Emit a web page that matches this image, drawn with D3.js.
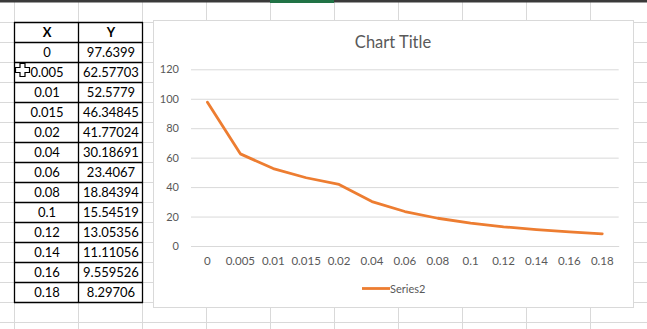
<!DOCTYPE html>
<html>
<head>
<meta charset="utf-8">
<script src="https://cdn.jsdelivr.net/npm/d3@7"></script>
<style>
  html, body { margin: 0; padding: 0; background: #fff; overflow: hidden; }
  svg { display: block; font-family: Lato, "Liberation Sans", sans-serif; }
</style>
</head>
<body>
<div id="sheet"></div>
<script>
// table / chart data
var xLabels = ["0", "0.005", "0.01", "0.015", "0.02", "0.04", "0.06", "0.08", "0.1", "0.12", "0.14", "0.16", "0.18"];
var yValues = [97.6399, 62.57703, 52.5779, 46.34845, 41.77024, 30.18691, 23.4067, 18.84394, 15.54519, 13.05356, 11.11056, 9.559526, 8.29706];
var yTicks = [0, 20, 40, 60, 80, 100, 120];
var headers = ["X", "Y"];
var seriesName = "Series2";
var chartTitle = "Chart Title";

var W = 647, H = 329;
var svg = d3.select("#sheet").append("svg")
    .attr("width", W)
    .attr("height", H);

// spreadsheet grid
var colX = d3.range(14, W, 64);
var rowY = d3.range(22, H, 20);
svg.append("g").selectAll("line.v").data(colX).enter().append("line")
    .attr("x1", function (d) { return d + 0.5; }).attr("x2", function (d) { return d + 0.5; })
    .attr("y1", 0).attr("y2", H)
    .attr("stroke", "#d9d9d9");
svg.append("g").selectAll("line.h").data(rowY).enter().append("line")
    .attr("x1", 0).attr("x2", W)
    .attr("y1", function (d) { return d + 0.5; }).attr("y2", function (d) { return d + 0.5; })
    .attr("stroke", "#d9d9d9");

// top bar + selected column marker
svg.append("rect").attr("x", 0).attr("y", 0).attr("width", W).attr("height", 2.5).attr("fill", "#3a3a3a");
svg.append("rect").attr("x", 270).attr("y", 0).attr("width", 64).attr("height", 3).attr("fill", "#217346");

// table
var tx = 14, ty = 22, cw = 64, rh = 20;
var rows = [headers].concat(xLabels.map(function (x, i) { return [x, String(yValues[i])]; }));
var table = svg.append("g");
table.append("rect")
    .attr("x", tx + 0.5).attr("y", ty + 0.5)
    .attr("width", cw * 2).attr("height", rh * rows.length)
    .attr("fill", "#fff");
rows.forEach(function (r, i) {
    r.forEach(function (c, j) {
        table.append("text")
            .attr("x", tx + cw * j + cw / 2 + 1)
            .attr("y", ty + rh * i + 15)
            .attr("text-anchor", "middle")
            .attr("font-size", "13px")
            .attr("font-weight", i === 0 ? "bold" : "normal")
            .attr("fill", "#000")
            .text(c);
    });
});
d3.range(rows.length + 1).forEach(function (i) {
    table.append("line")
        .attr("x1", tx).attr("x2", tx + cw * 2 + 1)
        .attr("y1", ty + rh * i + 0.5).attr("y2", ty + rh * i + 0.5)
        .attr("stroke", "#000").attr("stroke-width", 1.3);
});
[0, 1, 2].forEach(function (j) {
    table.append("line")
        .attr("x1", tx + cw * j + 0.5).attr("x2", tx + cw * j + 0.5)
        .attr("y1", ty).attr("y2", ty + rh * rows.length + 1)
        .attr("stroke", "#000").attr("stroke-width", 1.3);
});

// cursor (excel fat cross)
svg.append("path")
    .attr("d", "M20,63.5 h5 v4 h4.5 v5 h-4.5 v4 h-5 v-4 h-4.5 v-5 h4.5 z")
    .attr("fill", "#fff").attr("stroke", "#000").attr("stroke-width", 1.2);

// chart box
var chart = svg.append("g");
chart.append("rect")
    .attr("x", 153.5).attr("y", 20.5)
    .attr("width", 480).attr("height", 287)
    .attr("fill", "#fff").attr("stroke", "#d9d9d9");

chart.append("text")
    .attr("x", 393).attr("y", 48)
    .attr("text-anchor", "middle")
    .attr("font-size", "16.5px")
    .attr("fill", "#595959")
    .text(chartTitle);

var x = d3.scaleBand().domain(xLabels).range([191, 618.7]).padding(0);
var y = d3.scaleLinear().domain([0, 120]).range([246, 69.3]);

var yAxis = chart.append("g")
    .attr("transform", "translate(191,0)")
    .call(d3.axisLeft(y).tickValues(yTicks).tickSizeInner(-(618.7 - 191)).tickSizeOuter(0).tickPadding(12));
yAxis.select(".domain").remove();
yAxis.selectAll("line").attr("stroke", "#d9d9d9");
yAxis.selectAll("text").attr("fill", "#595959").attr("font-size", "11px").attr("font-family", "Lato");

var xAxis = chart.append("g")
    .attr("transform", "translate(0,246)")
    .call(d3.axisBottom(x).tickSize(0).tickPadding(10.5));
xAxis.select(".domain").attr("stroke", "#d9d9d9");
xAxis.selectAll("text").attr("fill", "#595959").attr("font-size", "11.5px").attr("font-family", "Lato");

var line = d3.line()
    .x(function (d, i) { return x(xLabels[i]) + x.bandwidth() / 2; })
    .y(function (d) { return y(d); });
chart.append("path")
    .datum(yValues)
    .attr("d", line)
    .attr("fill", "none")
    .attr("stroke", "#ed7d31")
    .attr("stroke-width", 2.8)
    .attr("stroke-linejoin", "round")
    .attr("stroke-linecap", "round");

// legend
chart.append("line")
    .attr("x1", 362).attr("x2", 390)
    .attr("y1", 288.5).attr("y2", 288.5)
    .attr("stroke", "#ed7d31").attr("stroke-width", 2.8);
chart.append("text")
    .attr("x", 390).attr("y", 292.5)
    .attr("font-size", "11px")
    .attr("fill", "#595959")
    .text(seriesName);
</script>
</body>
</html>
